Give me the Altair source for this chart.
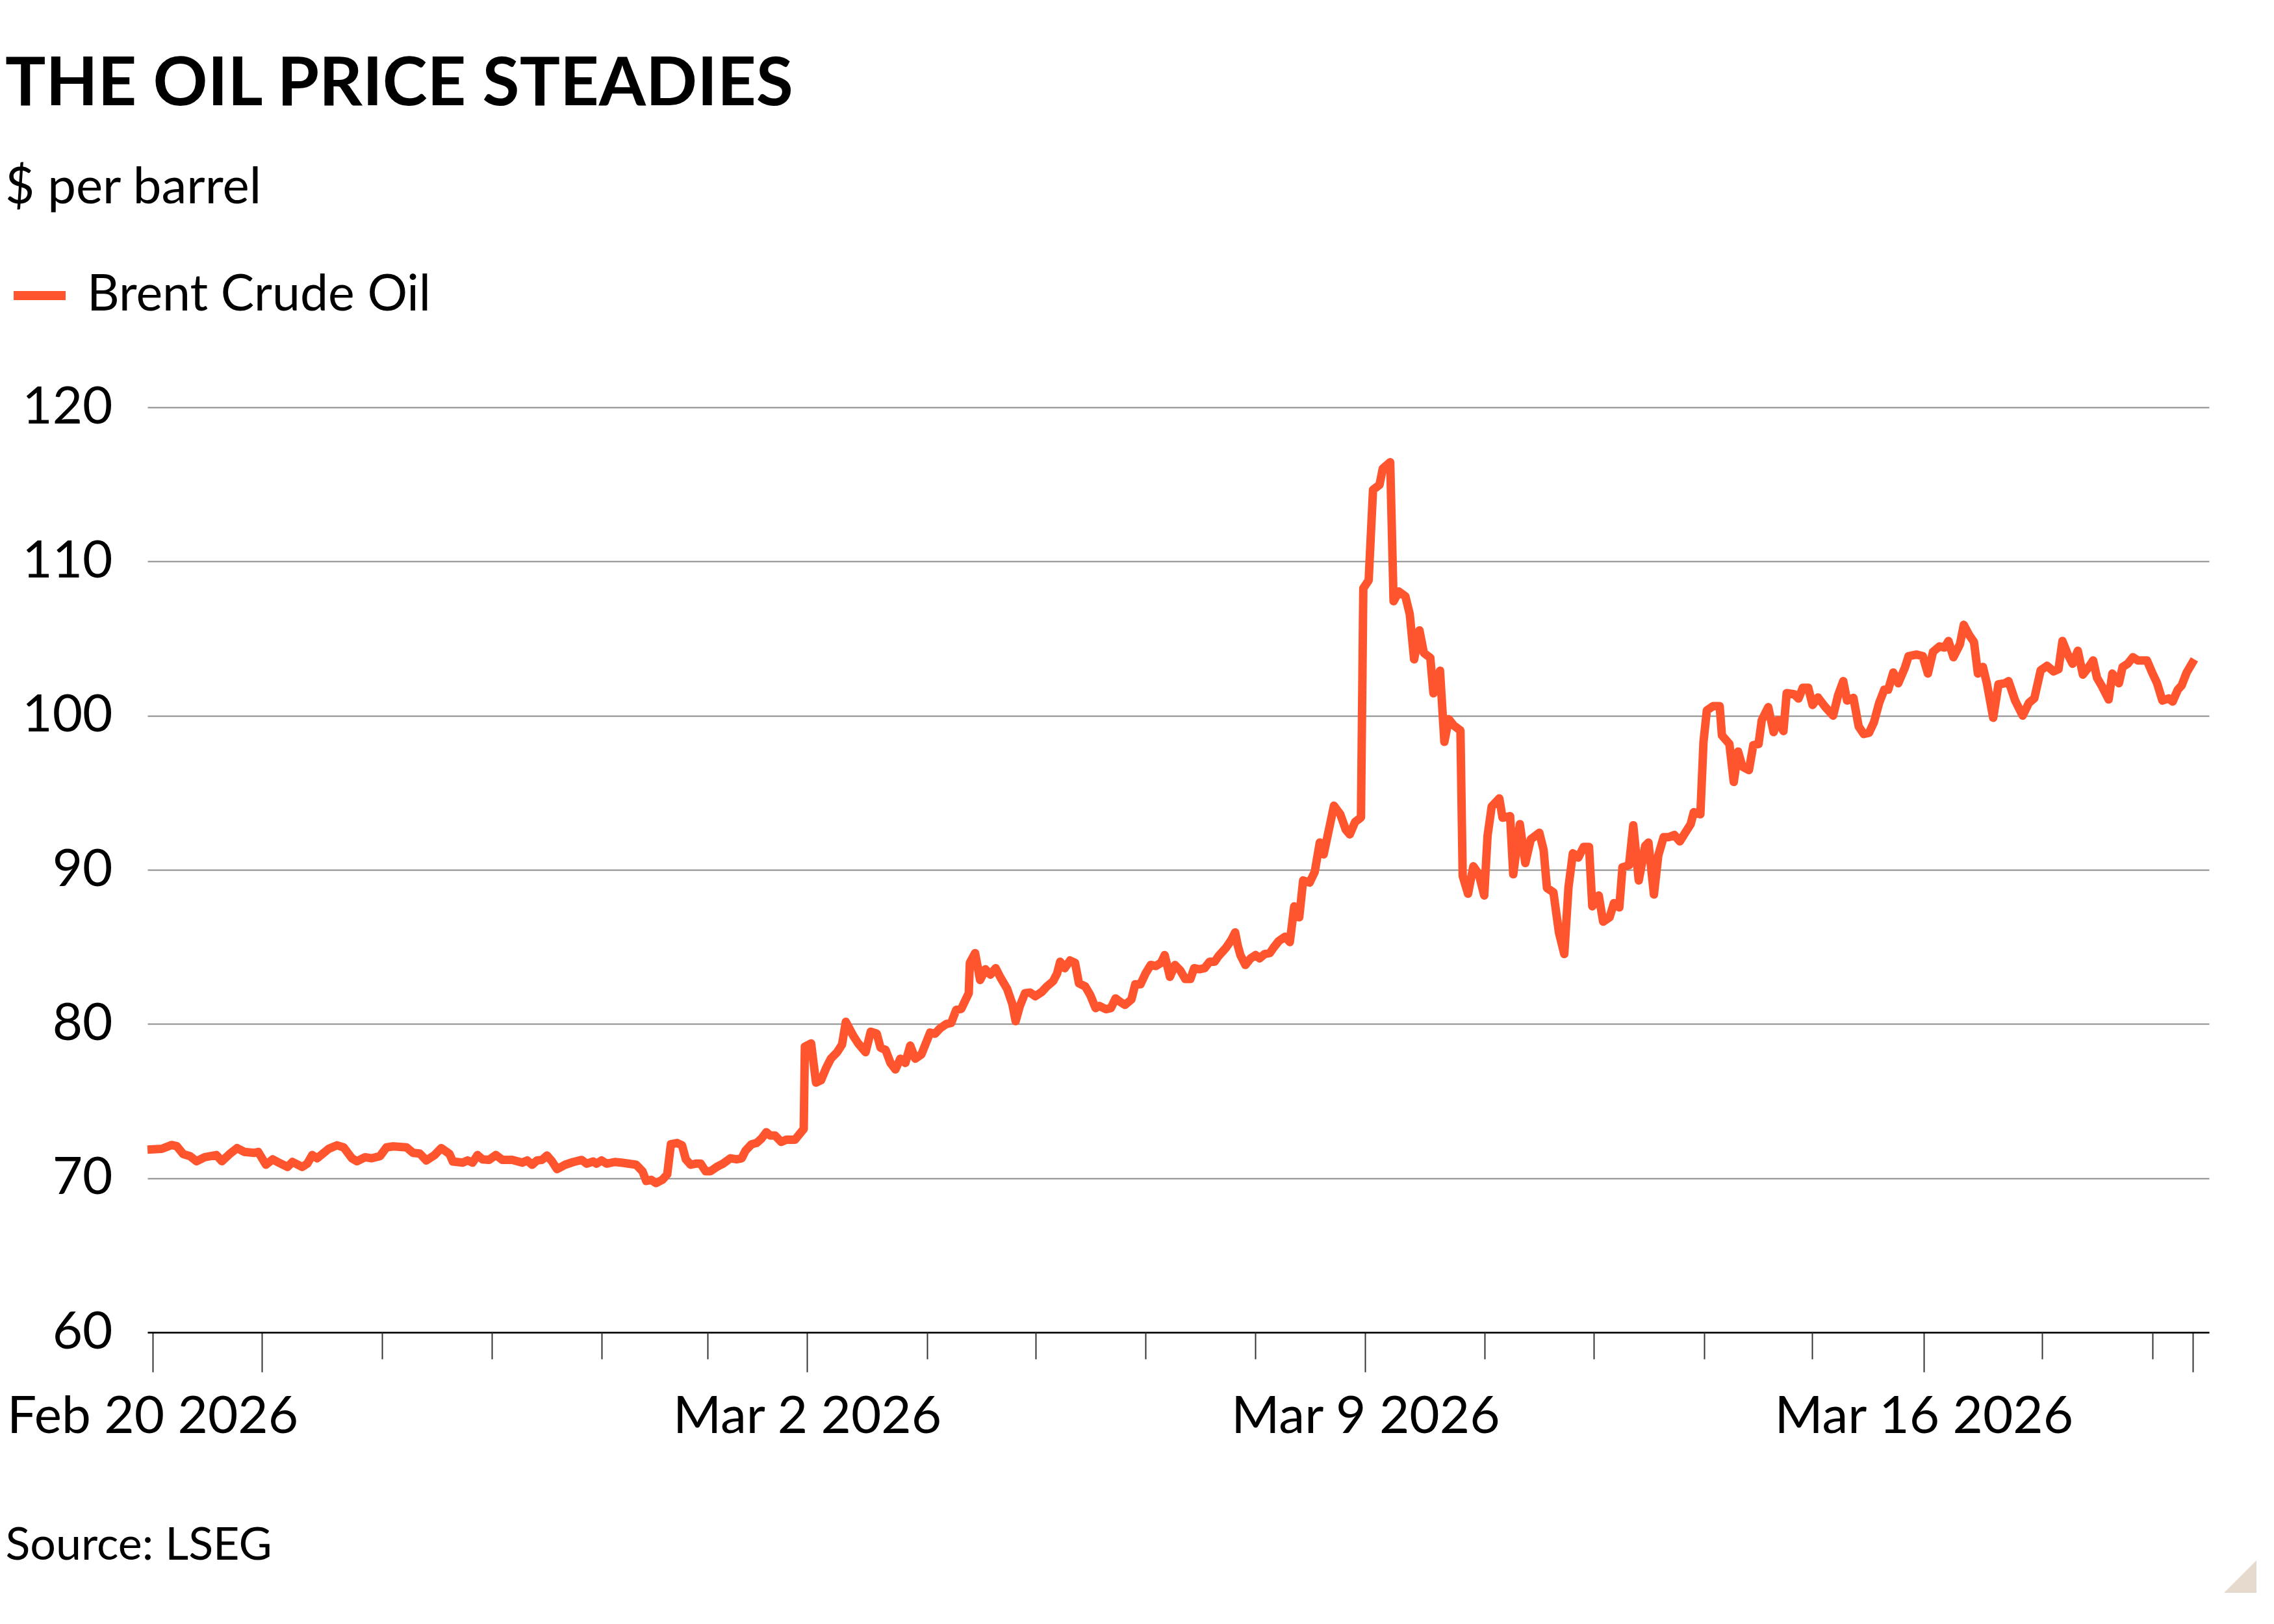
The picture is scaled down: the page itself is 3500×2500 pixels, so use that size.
import json
import altair as alt
import pandas as pd

TITLE = "THE OIL PRICE STEADIES"
SUBTITLE = "$ per barrel"
SERIES = "Brent Crude Oil"
SOURCE = "Source: LSEG"

# Position on a trading-time axis, in trading days (0 = Feb 20 2026, weekends skipped)
t = [
    -0.044, 0.084, 0.172, 0.218, 0.276, 0.336, 0.395, 0.469, 0.573, 0.623,
    0.692, 0.759, 0.824, 0.913, 0.948, 1.017, 1.077, 1.135, 1.210, 1.254,
    1.342, 1.387, 1.432, 1.476, 1.579, 1.653, 1.713, 1.787, 1.832, 1.906,
    1.964, 2.039, 2.097, 2.157, 2.276, 2.335, 2.394, 2.454, 2.528, 2.587,
    2.661, 2.691, 2.779, 2.823, 2.868, 2.912, 2.956, 3.016, 3.076, 3.134,
    3.223, 3.313, 3.357, 3.401, 3.445, 3.490, 3.534, 3.578, 3.624, 3.697,
    3.771, 3.845, 3.889, 3.949, 3.978, 4.023, 4.068, 4.142,
    4.200, 4.333, 4.389, 4.423, 4.467, 4.511, 4.567, 4.611, 4.644, 4.700,
    4.744, 4.778, 4.822, 4.867, 4.911, 4.955, 4.999, 5.055, 5.111, 5.178,
    5.233, 5.278, 5.312, 5.366, 5.411, 5.455, 5.499, 5.533, 5.577, 5.633,
    5.677, 5.755, 5.834, 5.844, 5.900, 5.944, 5.989, 6.033, 6.077, 6.133,
    6.177, 6.211, 6.278, 6.322, 6.388, 6.434, 6.488, 6.522, 6.567, 6.611,
    6.655, 6.699, 6.744, 6.788, 6.833, 6.888, 6.966, 7.010, 7.055, 7.111,
    7.155, 7.199, 7.245,
    7.312, 7.322, 7.369, 7.414, 7.461, 7.506, 7.553, 7.598, 7.655, 7.702,
    7.732, 7.770, 7.816, 7.862, 7.908, 7.966, 8.011, 8.068, 8.103, 8.131,
    8.172, 8.219, 8.264, 8.299, 8.356, 8.401, 8.448, 8.482, 8.540, 8.585,
    8.627, 8.666, 8.712, 8.769, 8.803, 8.850, 8.895, 8.942, 8.987, 9.034,
    9.067, 9.114, 9.159, 9.206, 9.251, 9.297, 9.331, 9.377, 9.424, 9.469,
    9.515, 9.549, 9.618, 9.664, 9.698, 9.721, 9.745, 9.790, 9.837, 9.882,
    9.917, 9.963, 10.009, 10.043, 10.089, 10.146, 10.188, 10.227, 10.272, 10.307,
    10.365, 10.411, 10.456, 10.491, 10.536, 10.583, 10.640, 10.689, 10.725, 10.772,
    10.825,
    10.846, 10.894, 10.933, 10.991, 11.020, 11.087, 11.117, 11.165, 11.223, 11.262,
    11.301, 11.349, 11.388, 11.446, 11.474, 11.533, 11.572, 11.611, 11.658, 11.716,
    11.736, 11.784, 11.832, 11.881, 11.929, 11.959, 11.996, 12.064, 12.093, 12.161,
    12.189, 12.248, 12.297, 12.346, 12.423, 12.461, 12.491, 12.549, 12.598, 12.646,
    12.684, 12.723, 12.771, 12.820, 12.868, 12.897, 12.955, 12.994, 13.052, 13.091,
    13.139, 13.167, 13.226, 13.264, 13.313, 13.371, 13.400, 13.449, 13.488, 13.536,
    13.583, 13.633, 13.681, 13.729, 13.778, 13.806, 13.865, 13.893, 13.923, 13.980,
    14.038, 14.058, 14.125, 14.164, 14.203, 14.242, 14.300, 14.339, 14.386, 14.415,
    14.473, 14.521, 14.560, 14.609, 14.638, 14.705, 14.744, 14.783, 14.831, 14.870,
    14.918,
    14.984, 15.054, 15.099, 15.145, 15.179, 15.236, 15.283, 15.328, 15.375, 15.420,
    15.467, 15.512, 15.547, 15.593, 15.638, 15.696, 15.730, 15.800, 15.857, 15.903,
    15.949, 16.006, 16.052, 16.087, 16.132, 16.190, 16.224, 16.270, 16.316, 16.351,
    16.396, 16.431, 16.488, 16.535, 16.592, 16.625, 16.684, 16.752, 16.809, 16.856,
    16.913, 16.970, 17.028, 17.073, 17.108, 17.154, 17.199, 17.246, 17.291, 17.338,
    17.383, 17.418, 17.463, 17.522, 17.555, 17.614, 17.647, 17.693, 17.739, 17.784,
    17.865, 17.911, 17.956, 18.003, 18.060, 18.095, 18.141, 18.176, 18.221, 18.290,
]

price = [
    71.85, 71.90, 72.15, 72.08, 71.56, 71.43, 71.10, 71.36, 71.50, 71.10,
    71.57, 71.95, 71.70, 71.64, 71.70, 70.87, 71.22, 71.00, 70.73, 71.05,
    70.73, 70.94, 71.50, 71.29, 71.90, 72.13, 72.00, 71.29, 71.10, 71.36,
    71.29, 71.43, 72.00, 72.06, 72.00, 71.64, 71.60, 71.15, 71.50, 71.95,
    71.57, 71.08, 71.01, 71.15, 71.01, 71.50, 71.22, 71.19, 71.50, 71.19,
    71.19, 71.01, 71.15, 70.87, 71.15, 71.19, 71.47, 71.10, 70.59, 70.87,
    71.05, 71.18, 70.94, 71.08, 70.94, 71.15, 70.94, 71.05,
    71.01, 70.87, 70.45, 69.82, 69.89, 69.68, 69.89, 70.24, 72.20, 72.28,
    72.13, 71.22, 70.87, 70.94, 70.94, 70.45, 70.45, 70.73, 70.94, 71.29,
    71.22, 71.29, 71.78, 72.20, 72.28, 72.56, 72.98, 72.77, 72.77, 72.35,
    72.49, 72.49, 73.19, 78.53, 78.74, 76.20, 76.35, 77.12, 77.75, 78.17,
    78.67, 80.14, 79.23, 78.74, 78.17, 79.50, 79.37, 78.46, 78.32, 77.47,
    77.05, 77.75, 77.47, 78.60, 77.75, 78.03, 79.44, 79.37, 79.72, 80.00,
    80.07, 80.91, 80.98,
    82.00, 83.97, 84.60, 82.85, 83.55, 83.20, 83.62, 82.99, 82.29, 81.31,
    80.18, 81.17, 82.00, 82.04, 81.80, 82.08, 82.43, 82.78, 83.27, 84.04,
    83.62, 84.12, 83.97, 82.64, 82.43, 81.87, 81.03, 81.17, 80.96, 81.03,
    81.66, 81.45, 81.24, 81.59, 82.57, 82.57, 83.27, 83.83, 83.76, 83.97,
    84.47, 83.06, 83.83, 83.48, 82.92, 82.92, 83.62, 83.55, 83.62, 84.04,
    84.04, 84.40, 84.96, 85.45, 85.94, 85.10, 84.47, 83.83, 84.26, 84.47,
    84.26, 84.54, 84.60, 84.96, 85.38, 85.66, 85.31, 87.63, 86.92, 89.31,
    89.17, 89.87, 91.77, 91.00, 92.54, 94.16, 93.60, 92.60, 92.30, 93.10,
    93.40,
    108.26, 108.78, 114.65, 114.97, 116.02, 116.44, 107.42, 108.05, 107.74, 106.58,
    103.65, 105.53, 104.07, 103.75, 101.45, 102.91, 98.30, 99.77, 99.35, 99.04,
    89.60, 88.45, 90.23, 89.71, 88.34, 92.22, 94.11, 94.63, 93.38, 93.48,
    89.71, 92.96, 90.44, 91.98, 92.40, 91.28, 88.82, 88.54, 85.94, 84.54,
    88.89, 91.07, 90.79, 91.49, 91.49, 87.63, 88.33, 86.64, 86.92, 87.84,
    87.56, 90.16, 90.30, 92.89, 89.31, 91.56, 91.77, 88.40, 90.93, 92.12,
    92.12, 92.26, 91.84, 92.40, 92.96, 93.74, 93.60, 98.30, 100.34, 100.62,
    100.62, 98.72, 98.16, 95.70, 97.67, 96.69, 96.47, 98.09, 98.16, 99.71,
    100.55, 98.93, 99.71, 99.00, 101.46, 101.39, 101.11, 101.81, 101.81, 100.69,
    101.18,
    100.56, 100.00, 101.33, 102.24, 100.98, 101.15, 99.30, 98.81, 98.88, 99.58,
    100.84, 101.68, 101.68, 102.80, 102.10, 103.09, 103.86, 103.96, 103.86, 102.73,
    104.14, 104.49, 104.42, 104.84, 103.79, 104.63, 105.89, 105.26, 104.77, 102.73,
    103.16, 102.10, 99.86, 102.03, 102.10, 102.24, 100.98, 100.00, 100.84, 101.12,
    102.94, 103.23, 102.87, 103.02, 104.84, 104.00, 103.37, 104.21, 102.66, 103.09,
    103.58, 102.45, 101.89, 101.05, 102.73, 102.10, 103.16, 103.37, 103.79, 103.58,
    103.58, 102.80, 102.10, 100.98, 101.12, 100.91, 101.68, 101.96, 102.80, 103.65,
]

# Day boundaries on the trading-time axis
tick_major = [0.0, 0.982, 5.863, 10.864, 15.865, 18.274]
tick_major_labels = ["Feb 20 2026", "", "Mar 2 2026", "Mar 9 2026", "Mar 16 2026", ""]
tick_minor = [2.057, 3.039, 4.023, 4.970, 6.939, 7.910, 8.895, 9.880,
              11.930, 12.912, 13.897, 14.867, 16.927, 17.912]
x_domain = [-0.044, 18.421]
y_ticks = [60, 70, 80, 90, 100, 110, 120]
y_domain = [60, 120]

FONT = "Lato"
LINE = "#FF552E"

df = pd.DataFrame({"t": t, "price": price, "series": [SERIES] * len(t)})
minor_df = pd.DataFrame({"t": tick_minor})

label_expr = (
    f"{json.dumps(tick_major_labels)}[indexof({json.dumps(tick_major)}, datum.value)]"
)

x_scale = alt.Scale(domain=x_domain, nice=False, zero=False)
y_scale = alt.Scale(domain=y_domain, nice=False, zero=False)

line = alt.Chart(df).mark_line(
    strokeWidth=13, strokeJoin="round", strokeCap="butt"
).encode(
    x=alt.X(
        "t:Q",
        scale=x_scale,
        axis=alt.Axis(
            orient="bottom",
            values=tick_major,
            labelExpr=label_expr,
            tickSize=61,
            tickWidth=2,
            tickColor="#333333",
            domainColor="#000000",
            domainWidth=2.5,
            labelFont=FONT,
            labelFontSize=80,
            labelColor="#000000",
            labelPadding=30,
            labelLimit=2000,
            labelOverlap=False,
            labelFlush=False,
            labelBound=False,
            grid=False,
            title=None,
        ),
    ),
    y=alt.Y(
        "price:Q",
        scale=y_scale,
        axis=alt.Axis(
            values=y_ticks,
            grid=True,
            gridColor="#8c8c8c",
            gridWidth=2,
            domain=False,
            ticks=False,
            tickSize=0,
            labelFont=FONT,
            labelFontSize=80,
            labelColor="#000000",
            labelPadding=54,
            title=None,
        ),
    ),
    color=alt.Color(
        "series:N",
        scale=alt.Scale(range=[LINE]),
        legend=alt.Legend(
            title=None,
            orient="none",
            legendX=-213,
            legendY=-219,
            symbolType="stroke",
            symbolStrokeWidth=14,
            symbolSize=6400,
            labelFont=FONT,
            labelFontSize=77,
            labelColor="#000000",
            labelLimit=0,
            labelOffset=26,
            padding=0,
        ),
    ),
)

minor = alt.Chart(minor_df).mark_rule(opacity=0).encode(
    x=alt.X(
        "t:Q",
        scale=x_scale,
        axis=alt.Axis(
            orient="bottom",
            values=tick_minor,
            tickSize=41,
            tickWidth=2,
            tickColor="#333333",
            domain=False,
            labels=False,
            grid=False,
            title=SOURCE,
            titleFont=FONT,
            titleFontSize=70,
            titleFontWeight="normal",
            titleColor="#000000",
            titleX=-219,
            titleY=294,
            titleAlign="left",
            titleBaseline="top",
            titleAnchor="start",
        ),
    ),
)

corner = alt.Chart(alt.Data(values=[{"k": 1}])).mark_point(
    shape="M 1 -1 L 1 1 L -1 1 Z", filled=True, color="#E6D9CE", size=2500, opacity=1
).encode(x=alt.value(3221), y=alt.value(1800))

chart = (
    alt.layer(line, minor, corner)
    .resolve_axis(x="independent")
    .properties(
        width=3173,
        height=1424,
        padding={"top": 71, "left": 0, "right": 0, "bottom": 10},
        title=alt.TitleParams(
            text=TITLE,
            subtitle=SUBTITLE,
            anchor="start",
            frame="bounds",
            font=FONT,
            fontSize=104,
            fontWeight="bold",
            color="#000000",
            subtitleFont=FONT,
            subtitleFontSize=78,
            subtitleColor="#000000",
            subtitlePadding=67,
            offset=78,
        ),
    )
    .configure(background="white")
    .configure_view(stroke=None)
)

chart.save("out.html", embed_options={"renderer": "svg", "actions": False})
